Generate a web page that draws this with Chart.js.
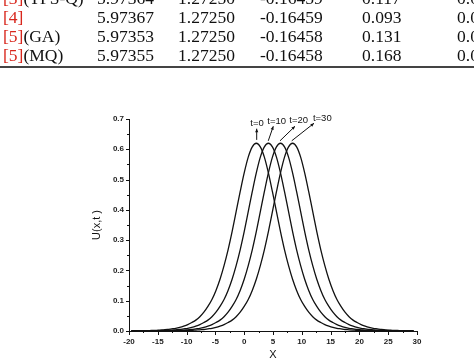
<!DOCTYPE html>
<html>
<head>
<meta charset="utf-8">
<script src="https://cdn.jsdelivr.net/npm/chart.js@4.4.1/dist/chart.umd.min.js"></script>
<style>
  html, body { margin: 0; padding: 0; background: #fff; }
  body { width: 474px; height: 362px; overflow: hidden; position: relative; }
  #chart { position: absolute; left: 0; top: 0; }
  .row { position: absolute; left: 0; height: 19px; line-height: 19px; font-family: "Liberation Serif", "Times New Roman", serif; font-size: 17.5px; color: #111; white-space: nowrap; }
  .row span { position: absolute; top: 0; }
  .ref { color: #d8261c; }
  #rule { position: absolute; left: 0; top: 66px; width: 474px; height: 1.5px; background: #444; }
</style>
</head>
<body>
<canvas id="chart" width="474" height="362"></canvas>
<div id="table"></div>
<div id="rule"></div>
<script>
// Table rows above the figure (partly cut off at the top of the crop)
const tableRefs = ["3", "4", "5", "5"];
const tableMethods = ["(TPS-Q)", "", "(GA)", "(MQ)"];
const tableI1 = ["5.97364", "5.97367", "5.97353", "5.97355"];
const tableI2 = ["1.27250", "1.27250", "1.27250", "1.27250"];
const tableI3 = ["-0.16459", "-0.16459", "-0.16458", "-0.16458"];
const tableL2 = ["0.117", "0.093", "0.131", "0.168"];
const tableLinf = ["0.0482", "0.0371", "0.0512", "0.0633"];

// Chart data: x positions and U(x,t) for the four times
const xValues = [-19.6, -18.9, -18.2, -17.5, -16.8, -16.1, -15.4, -14.7, -14.0, -13.3,
  -12.6, -11.9, -11.2, -10.5, -9.8, -9.1, -8.4, -7.7, -7.0, -6.3,
  -5.6, -4.9, -4.2, -3.5, -2.8, -2.1, -1.4, -0.7, 0.0, 0.7,
  1.4, 2.1, 2.8, 3.5, 4.2, 4.9, 5.6, 6.3, 7.0, 7.7,
  8.4, 9.1, 9.8, 10.5, 11.2, 11.9, 12.6, 13.3, 14.0, 14.7,
  15.4, 16.1, 16.8, 17.5, 18.2, 18.9, 19.6, 20.3, 21.0, 21.7,
  22.4, 23.1, 23.8, 24.5, 25.2, 25.9, 26.6, 27.3, 28.0, 28.7, 29.4];

const uT0 = [0, 0, 0.001, 0.001, 0.001, 0.002, 0.002, 0.003, 0.004, 0.005,
  0.007, 0.009, 0.012, 0.016, 0.021, 0.028, 0.036, 0.047, 0.062, 0.081,
  0.104, 0.134, 0.171, 0.216, 0.268, 0.328, 0.394, 0.460, 0.522, 0.574,
  0.608, 0.620, 0.608, 0.574, 0.522, 0.460, 0.394, 0.328, 0.268, 0.216,
  0.171, 0.134, 0.104, 0.081, 0.062, 0.047, 0.036, 0.028, 0.021, 0.016,
  0.012, 0.009, 0.007, 0.005, 0.004, 0.003, 0.002, 0.002, 0.001, 0.001,
  0.001, 0, 0, 0, 0, 0, 0, 0, 0, 0, 0];

const uT10 = [0, 0, 0, 0, 0, 0.001, 0.001, 0.001, 0.002, 0.002,
  0.003, 0.004, 0.005, 0.007, 0.009, 0.012, 0.016, 0.021, 0.028, 0.036,
  0.047, 0.062, 0.081, 0.104, 0.134, 0.171, 0.216, 0.268, 0.328, 0.394,
  0.460, 0.522, 0.574, 0.608, 0.620, 0.608, 0.574, 0.522, 0.460, 0.394,
  0.328, 0.268, 0.216, 0.171, 0.134, 0.104, 0.081, 0.062, 0.047, 0.036,
  0.028, 0.021, 0.016, 0.012, 0.009, 0.007, 0.005, 0.004, 0.003, 0.002,
  0.002, 0.001, 0.001, 0.001, 0, 0, 0, 0, 0, 0, 0];

const uT20 = [0, 0, 0, 0, 0, 0, 0, 0, 0.001, 0.001,
  0.001, 0.002, 0.002, 0.003, 0.004, 0.005, 0.007, 0.009, 0.012, 0.016,
  0.021, 0.028, 0.036, 0.047, 0.062, 0.081, 0.104, 0.134, 0.171, 0.216,
  0.268, 0.328, 0.394, 0.460, 0.522, 0.574, 0.608, 0.620, 0.608, 0.574,
  0.522, 0.460, 0.394, 0.328, 0.268, 0.216, 0.171, 0.134, 0.104, 0.081,
  0.062, 0.047, 0.036, 0.028, 0.021, 0.016, 0.012, 0.009, 0.007, 0.005,
  0.004, 0.003, 0.002, 0.002, 0.001, 0.001, 0.001, 0, 0, 0, 0];

const uT30 = [0, 0, 0, 0, 0, 0, 0, 0, 0, 0,
  0, 0.001, 0.001, 0.001, 0.002, 0.002, 0.003, 0.004, 0.005, 0.007,
  0.009, 0.012, 0.016, 0.021, 0.028, 0.036, 0.047, 0.062, 0.081, 0.104,
  0.134, 0.171, 0.216, 0.268, 0.328, 0.394, 0.460, 0.522, 0.574, 0.608,
  0.620, 0.608, 0.574, 0.522, 0.460, 0.394, 0.328, 0.268, 0.216, 0.171,
  0.134, 0.104, 0.081, 0.062, 0.047, 0.036, 0.028, 0.021, 0.016, 0.012,
  0.009, 0.007, 0.005, 0.004, 0.003, 0.002, 0.002, 0.001, 0.001, 0.001, 0];

const seriesLabels = ["t=0", "t=10", "t=20", "t=30"];

// Axis tick labels
const xTickValues = [-20, -15, -10, -5, 0, 5, 10, 15, 20, 25, 30];
const yTickValues = [0.0, 0.1, 0.2, 0.3, 0.4, 0.5, 0.6, 0.7];

// Annotation arrows (data units): label centre, arrow head, arrow tail at the peak
const labelX = [2.22, 5.64, 9.46, 13.56];
const labelY = [0.685, 0.692, 0.694, 0.701];
const headX = [2.17, 5.05, 8.82, 12.12];
const headY = [0.668, 0.676, 0.676, 0.686];
const tailX = [2.17, 4.18, 6.22, 8.25];
const tailY = [0.631, 0.628, 0.628, 0.628];

// Build the table rows
const table = document.getElementById("table");
const colLeft = [97, 178, 260, 362, 457];
tableRefs.forEach((ref, i) => {
  const row = document.createElement("div");
  row.className = "row";
  row.style.top = (-11.25 + i * 19) + "px";
  row.style.width = "474px";
  const first = document.createElement("span");
  first.style.left = "3px";
  first.innerHTML = '<span class="ref" style="position:static">[' + ref + ']</span>' + tableMethods[i];
  row.appendChild(first);
  [tableI1[i], tableI2[i], tableI3[i], tableL2[i], tableLinf[i]].forEach((txt, c) => {
    const s = document.createElement("span");
    s.style.left = colLeft[c] + "px";
    s.textContent = txt;
    row.appendChild(s);
  });
  table.appendChild(row);
});

const seriesData = [uT0, uT10, uT20, uT30];

// Draws outward major/minor tick marks and the t= arrows
const decorPlugin = {
  id: "decor",
  afterDraw(chart) {
    const ctx = chart.ctx;
    const xs = chart.scales.x;
    const ys = chart.scales.y;
    const area = chart.chartArea;
    ctx.save();
    ctx.strokeStyle = "#111";
    ctx.lineWidth = 1;
    ctx.beginPath();
    xTickValues.forEach((v, i) => {
      const px = Math.round(xs.getPixelForValue(v)) + 0.5;
      ctx.moveTo(px, area.bottom);
      ctx.lineTo(px, area.bottom + 4);
      if (i < xTickValues.length - 1) {
        const mx = Math.round(xs.getPixelForValue((v + xTickValues[i + 1]) / 2)) + 0.5;
        ctx.moveTo(mx, area.bottom);
        ctx.lineTo(mx, area.bottom + 2);
      }
    });
    yTickValues.forEach((v, i) => {
      const py = Math.round(ys.getPixelForValue(v)) + 0.5;
      ctx.moveTo(area.left, py);
      ctx.lineTo(area.left - 3, py);
      if (i < yTickValues.length - 1) {
        const my = Math.round(ys.getPixelForValue((v + yTickValues[i + 1]) / 2)) + 0.5;
        ctx.moveTo(area.left, my);
        ctx.lineTo(area.left - 2, my);
      }
    });
    ctx.stroke();

    // arrows and labels
    ctx.fillStyle = "#111";
    ctx.font = "9.5px 'Liberation Sans', Arial, sans-serif";
    ctx.textAlign = "center";
    ctx.textBaseline = "middle";
    seriesLabels.forEach((lab, i) => {
      const x0 = xs.getPixelForValue(tailX[i]);
      const y0 = ys.getPixelForValue(tailY[i]);
      const x1 = xs.getPixelForValue(headX[i]);
      const y1 = ys.getPixelForValue(headY[i]);
      ctx.beginPath();
      ctx.moveTo(x0, y0);
      ctx.lineTo(x1, y1);
      ctx.stroke();
      const ang = Math.atan2(y1 - y0, x1 - x0);
      const len = 3.5, w = 1.6;
      ctx.beginPath();
      ctx.moveTo(x1, y1);
      ctx.lineTo(x1 - len * Math.cos(ang) + w * Math.sin(ang), y1 - len * Math.sin(ang) - w * Math.cos(ang));
      ctx.lineTo(x1 - len * Math.cos(ang) - w * Math.sin(ang), y1 - len * Math.sin(ang) + w * Math.cos(ang));
      ctx.closePath();
      ctx.fill();
      ctx.fillText(lab, xs.getPixelForValue(labelX[i]), ys.getPixelForValue(labelY[i]));
    });
    ctx.restore();
  }
};

const tickFont = { family: "'Liberation Sans', Arial, sans-serif", size: 8, weight: "bold" };
const titleFont = { family: "'Liberation Sans', Arial, sans-serif", size: 11 };

new Chart(document.getElementById("chart"), {
  type: "line",
  data: {
    datasets: seriesData.map((arr, k) => ({
      label: seriesLabels[k],
      data: xValues.map((x, i) => ({ x: x, y: arr[i] })),
      borderColor: "#111",
      borderWidth: 1.3,
      pointRadius: 0,
      fill: false,
      cubicInterpolationMode: "monotone"
    }))
  },
  options: {
    responsive: false,
    devicePixelRatio: 1,
    animation: false,
    layout: { padding: { left: 0, right: 57, top: 119, bottom: 0 } },
    plugins: { legend: { display: false }, tooltip: { enabled: false } },
    scales: {
      x: {
        type: "linear",
        min: -20,
        max: 30,
        afterBuildTicks: s => { s.ticks = xTickValues.map(v => ({ value: v })); },
        afterFit: s => { s.height = 31; },
        grid: { display: false, drawTicks: false },
        border: { display: true, color: "#111", width: 1 },
        ticks: { font: tickFont, color: "#222", padding: 6, maxRotation: 0, callback: v => String(v) },
        title: { display: true, text: "X", color: "#111", font: titleFont, padding: { top: 0, bottom: 0 } }
      },
      y: {
        min: 0,
        max: 0.7,
        afterBuildTicks: s => { s.ticks = yTickValues.map(v => ({ value: v })); },
        afterFit: s => { s.width = 129; },
        grid: { display: false, drawTicks: false },
        border: { display: true, color: "#111", width: 1 },
        ticks: { font: tickFont, color: "#222", padding: 5, callback: v => Number(v).toFixed(1) },
        title: { display: true, text: "U(x,t )", color: "#111", font: titleFont, padding: { top: 90, bottom: 0 } }
      }
    }
  },
  plugins: [decorPlugin]
});
</script>
</body>
</html>
